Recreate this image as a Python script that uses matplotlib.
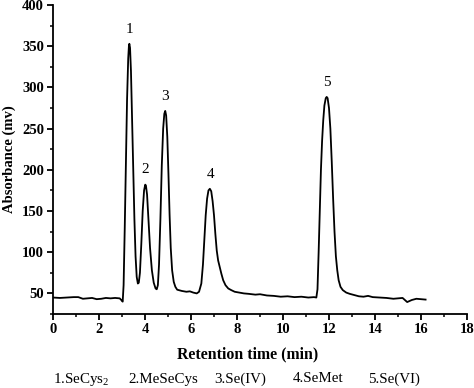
import matplotlib
matplotlib.use("Agg")
import matplotlib.pyplot as plt
from matplotlib.ticker import MultipleLocator

plt.rcParams["font.family"] = ["Liberation Serif", "DejaVu Serif"]
plt.rcParams["mathtext.fontset"] = "custom"
plt.rcParams["mathtext.rm"] = "Liberation Serif"

# chromatogram trace (time in min, absorbance in mv)
time_min = [
    0.0, 0.3, 0.6, 0.9, 1.1, 1.3, 1.5, 1.7, 1.9, 2.1, 2.3, 2.5, 2.7, 2.9, 2.97,
    3.03, 3.07, 3.12, 3.17, 3.22, 3.27, 3.30, 3.32, 3.35, 3.39, 3.44, 3.49,
    3.54, 3.59, 3.64, 3.69, 3.73,
    3.78, 3.84, 3.90, 3.96, 4.01, 4.04, 4.09, 4.15, 4.22, 4.30, 4.38, 4.46, 4.51,
    4.56, 4.61, 4.67, 4.73, 4.79, 4.84, 4.88, 4.92, 4.97, 5.02, 5.07, 5.12,
    5.18, 5.25, 5.32, 5.40, 5.6, 5.8, 5.95, 6.1, 6.25,
    6.35, 6.45, 6.52, 6.58, 6.64, 6.70, 6.76, 6.82, 6.88, 6.94, 7.00, 7.06,
    7.12, 7.18, 7.25, 7.32, 7.40, 7.50, 7.62, 7.75, 7.9, 8.1, 8.3, 8.5,
    8.8, 9.0, 9.3, 9.6, 9.9, 10.2, 10.5, 10.8, 11.1, 11.35, 11.45,
    11.50, 11.55, 11.60, 11.65, 11.70, 11.75, 11.80, 11.86, 11.90, 11.94,
    12.00, 12.06, 12.12, 12.18, 12.24, 12.30, 12.36, 12.42, 12.50, 12.6,
    12.75, 12.9, 13.1, 13.3, 13.5, 13.7, 13.9, 14.2, 14.5, 14.8, 15.0, 15.2,
    15.4, 15.6, 15.8, 16.0, 16.2,
]
absorbance = [
    45, 44.5, 45, 45.5, 45.5, 43.5, 44, 44.5, 43, 43.5, 44.5, 44, 44.5, 44, 42,
    40, 60, 130, 210, 285, 335, 350, 353, 348, 320, 260, 200,
    140, 95, 70, 62, 63,
    75, 110, 150, 175, 182, 181, 170, 140, 105, 78, 63, 56, 55,
    60, 85, 140, 205, 250, 268, 271.5, 266, 240, 195, 145, 105,
    78, 64, 58, 54.5, 53, 52, 52.5, 51, 50,
    52, 62, 85, 115, 145, 165, 175, 177, 174, 162, 145, 122,
    102, 90, 82, 74, 66, 60, 56, 54, 52, 51, 50, 49.5,
    48.5, 49, 47.5, 47, 46, 46.5, 45.5, 46, 45, 45.5, 45,
    55, 100, 150, 200, 235, 260, 278, 287, 288.5, 287,
    275, 250, 210, 165, 125, 95, 78, 66, 58, 54,
    51, 49.5, 48, 46.5, 46, 47, 45.5, 45, 44.5, 43.5, 44, 44.5,
    39.5, 42, 43.5, 43, 42.5,
]

peak_labels = ["1", "2", "3", "4", "5"]
peak_times = [3.32, 4.03, 4.87, 6.83, 11.9]
peak_heights = [353, 182, 271.5, 177, 288.5]
legend_items = ["1.SeCys$_2$", "2.MeSeCys", "3.Se(IV)", "4.SeMet", "5.Se(VI)"]
legend_x = [53, 128, 214, 293, 368]

fig = plt.figure(figsize=(4.74, 3.88), dpi=100)
ax = fig.add_axes([0.1118, 0.1907, 0.8734, 0.7963])

ax.plot(time_min, absorbance, color="black", linewidth=1.3)

for lab, t, h in zip(peak_labels, peak_times, peak_heights):
    ax.text(t, h + 10, lab, ha="center", va="bottom", fontsize=11)

ax.set_xlim(0, 18)
ax.set_ylim(25, 400)
ax.xaxis.set_major_locator(MultipleLocator(2))
ax.xaxis.set_minor_locator(MultipleLocator(1))
ax.yaxis.set_major_locator(MultipleLocator(50))
ax.yaxis.set_minor_locator(MultipleLocator(25))
ax.set_yticks(range(50, 401, 50))

for side in ("top", "right"):
    ax.spines[side].set_visible(False)
for side in ("left", "bottom"):
    ax.spines[side].set_linewidth(1.3)

ax.tick_params(which="major", direction="out", length=4.5, width=1.3,
               labelsize=10.5, pad=2)
ax.tick_params(which="minor", direction="out", length=2.5, width=1.1)
for lbl in ax.get_xticklabels() + ax.get_yticklabels():
    lbl.set_fontweight("bold")

ax.set_xlabel("Retention time (min)", fontsize=11.4, fontweight="bold")
ax.xaxis.set_label_coords((248 - 53) / 414, -(346 - 314) / 309)
ax.set_ylabel("Absorbance (mv)", fontsize=10.5, fontweight="bold", labelpad=4)

for txt, x in zip(legend_items, legend_x):
    fig.text(x / 474, 1 - 379 / 388, txt, ha="left", va="center", fontsize=10.8)

fig.savefig("out.png", dpi=100, facecolor="white")
